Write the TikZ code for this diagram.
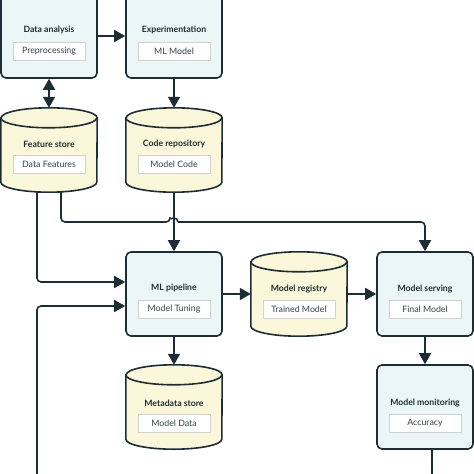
\documentclass[tikz,border=0pt]{standalone}
\usepackage{fontspec}
\setmainfont{Lato}
\usetikzlibrary{arrows.meta}

\definecolor{linec}{HTML}{1E2D33}
\definecolor{stagefill}{HTML}{EBF7F7}
\definecolor{storefill}{HTML}{FAF7DA}

\tikzset{
stage/.style={draw=linec, fill=stagefill, rounded corners=5pt, line width=1.6pt, minimum width=96pt, minimum height=84pt},
store/.style={rectangle, inner sep=0pt, minimum width=96pt, minimum height=84pt},
storeline/.style={draw=linec, line width=1.6pt},
heading/.style={font=\fontsize{8.7}{10}\selectfont\bfseries, text=linec},
tag/.style={draw=gray!35, fill=white, minimum width=72pt, minimum height=18pt, inner sep=0pt, font=\fontsize{8.8}{10}\selectfont, text=linec!90},
flow/.style={draw=linec, line width=1.6pt, -{Triangle[length=11pt,width=12pt]}, rounded corners=4pt}
}

\begin{document}
\begin{tikzpicture}[x=1pt, y=-1pt]
\begin{scope}
\useasboundingbox (0,0) rectangle (474,474);
\fill[white] (0,0) rectangle (474,474);

% stages
\node[stage] (data) at (49,36) {};
\node[stage] (exper) at (174,36) {};
\node[stage] (mlpipe) at (174,294) {};
\node[stage] (serving) at (425,294) {};
\node[stage] (monitor) at (425,407) {};

% stores
\node[store] (feature) at (49,150) {};
\node[store] (code) at (174,150) {};
\node[store] (registry) at (299,294) {};
\node[store] (meta) at (174,407) {};

\foreach \s in {feature,code,registry,meta}{
\filldraw[storeline, fill=storefill] ([yshift=-10pt]\s.north west) -- ([yshift=10pt]\s.south west)
  arc[start angle=180, end angle=360, x radius=48pt, y radius=10pt] -- ([yshift=-10pt]\s.north east)
  arc[start angle=0, end angle=180, x radius=48pt, y radius=10pt] -- cycle;
\draw[storeline] ([yshift=-10pt]\s.north west) arc[start angle=180, end angle=360, x radius=48pt, y radius=10pt];
}

% texts
\node[heading] (dataT) at ([yshift=6pt]data.center) {Data analysis};
\node[tag] (dataS) at ([yshift=-15pt]data.center) {Preprocessing};
\node[heading] (experT) at ([yshift=6pt]exper.center) {Experimentation};
\node[tag] (experS) at ([yshift=-15pt]exper.center) {ML Model};
\node[heading] (featureT) at ([yshift=6pt]feature.center) {Feature store};
\node[tag] (featureS) at ([yshift=-14pt]feature.center) {Data Features};
\node[heading] (codeT) at ([yshift=6pt]code.center) {Code repository};
\node[tag] (codeS) at ([yshift=-14pt]code.center) {Model Code};
\node[heading] (mlpipeT) at ([yshift=6pt]mlpipe.center) {ML pipeline};
\node[tag] (mlpipeS) at ([yshift=-15pt]mlpipe.center) {Model Tuning};
\node[heading] (registryT) at ([yshift=5pt]registry.center) {Model registry};
\node[tag] (registryS) at ([yshift=-15pt]registry.center) {Trained Model};
\node[heading] (servingT) at ([yshift=5pt]serving.center) {Model serving};
\node[tag] (servingS) at ([yshift=-15pt]serving.center) {Final Model};
\node[heading] (monitorT) at ([yshift=4pt]monitor.center) {Model monitoring};
\node[tag] (monitorS) at ([yshift=-16pt]monitor.center) {Accuracy};
\node[heading] (metaT) at ([yshift=4pt]meta.center) {Metadata store};
\node[tag] (metaS) at ([yshift=-16pt]meta.center) {Model Data};

\coordinate (hop) at (code.south |- 0,222);
\coordinate (loopL) at (37,480);
\coordinate (loopR) at (432,480);

% connectors
\draw[flow] (data.east) -- (exper.west);
\draw[flow, {Triangle[length=11pt,width=12pt]}-{Triangle[length=11pt,width=12pt]}] (data.south) -- (feature.north);
\draw[flow] (exper.south) -- (code.north);
\draw[flow] ([xshift=-12pt]feature.south) |- ([yshift=12pt]mlpipe.west);
\draw[flow, -] ([xshift=12pt]feature.south) |- ([xshift=-4pt]hop) arc[start angle=180, end angle=0, radius=4pt];
\draw[flow] ([xshift=4pt]hop) -| (serving.north);
\draw[flow] (code.south) -- (mlpipe.north);
\draw[flow] (loopL) |- ([yshift=-12pt]mlpipe.west);
\draw[flow] (mlpipe.east) -- (registry.west);
\draw[flow] (registry.east) -- (serving.west);
\draw[flow] (mlpipe.south) -- (meta.north);
\draw[flow] (serving.south) -- (monitor.north);
\draw[flow, -] ([xshift=7pt]monitor.south) -- (loopR);
%\draw[flow] (monitor.east) -- ++(20,0);

\end{scope}
\end{tikzpicture}
\end{document}
